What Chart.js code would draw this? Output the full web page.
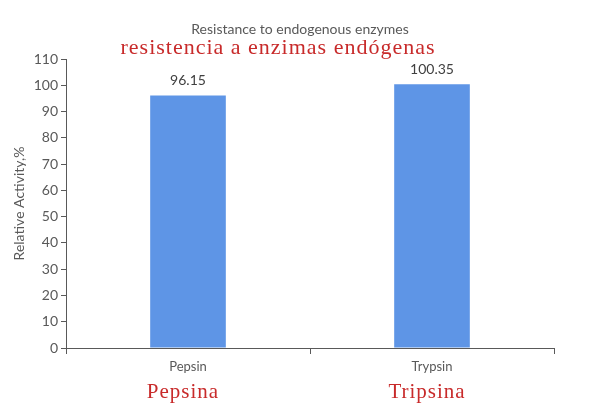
<!DOCTYPE html>
<html>
<head>
<meta charset="utf-8">
<script src="https://cdn.jsdelivr.net/npm/chart.js@4.4.1/dist/chart.umd.min.js"></script>
<style>
  html, body { margin: 0; padding: 0; background: #fff; }
  #wrap { width: 600px; height: 405px; position: relative; }
</style>
</head>
<body>
<div id="wrap"><canvas id="chart"></canvas></div>
<script>
const categories = ['Pepsin', 'Trypsin'];
const categoriesEs = ['Pepsina', 'Tripsina'];
const activity = [96.15, 100.35];
const yMin = 0;
const yMax = 110;
const yStep = 10;
const titleEn = 'Resistance to endogenous enzymes';
const titleEs = 'resistencia a enzimas endógenas';
const yTitle = 'Relative Activity,%';

const BAR_COLOR = '#5e95e6';
const AXIS_COLOR = '#595959';
const TEXT_GRAY = '#595959';
const RED = '#c82a2a';

// titles, value labels and the red spanish labels
const overlayText = {
  id: 'overlayText',
  afterDraw(chart) {
    const ctx = chart.ctx;
    ctx.save();

    ctx.fillStyle = TEXT_GRAY;
    ctx.font = '14px Lato';
    ctx.textAlign = 'center';
    ctx.textBaseline = 'middle';
    ctx.fillText(titleEn, 300, 29);

    ctx.fillStyle = RED;
    ctx.font = '22px "Liberation Serif"';
    ctx.letterSpacing = '1px';
    ctx.fillText(titleEs, 278, 48);

    const xScale = chart.scales.x;
    ctx.font = '21px "Liberation Serif"';
    categoriesEs.forEach((lbl, i) => {
      ctx.fillText(lbl, xScale.getPixelForValue(i) - 5, 392);
    });

    ctx.letterSpacing = '0px';
    ctx.fillStyle = '#404040';
    ctx.font = '14px Lato';
    const meta = chart.getDatasetMeta(0);
    meta.data.forEach((bar, i) => {
      ctx.fillText(activity[i].toFixed(2), bar.x, bar.y - 15);
    });

    ctx.restore();
  },
};

const ctx = document.getElementById('chart').getContext('2d');
new Chart(ctx, {
  type: 'bar',
  data: {
    labels: categories,
    datasets: [{
      data: activity,
      backgroundColor: BAR_COLOR,
      borderWidth: 0,
      categoryPercentage: 1,
      barPercentage: 0.31,
    }],
  },
  options: {
    responsive: true,
    maintainAspectRatio: false,
    animation: false,
    layout: { padding: { top: 59, right: 46, left: 0, bottom: 0 } },
    plugins: {
      legend: { display: false },
      tooltip: { enabled: false },
    },
    scales: {
      x: {
        offset: true,
        grid: {
          offset: true,
          drawOnChartArea: false,
          drawTicks: true,
          tickLength: 6,
          color: AXIS_COLOR,
        },
        border: { display: true, color: AXIS_COLOR, width: 1 },
        ticks: { color: TEXT_GRAY, font: { family: 'Lato', size: 13 }, padding: 5 },
        afterFit: s => { s.height = 57; },
      },
      y: {
        min: yMin,
        max: yMax,
        grid: {
          drawOnChartArea: false,
          drawTicks: true,
          tickLength: 5,
          color: AXIS_COLOR,
        },
        border: { display: true, color: AXIS_COLOR, width: 1 },
        ticks: {
          stepSize: yStep,
          color: TEXT_GRAY,
          font: { family: 'Lato', size: 14 },
          padding: 3,
        },
        title: {
          display: true,
          text: yTitle,
          color: TEXT_GRAY,
          font: { family: 'Lato', size: 14 },
          padding: { top: 11, bottom: 0 },
        },
        afterFit: s => { s.width = 66; },
      },
    },
  },
  plugins: [overlayText],
});
</script>
</body>
</html>
